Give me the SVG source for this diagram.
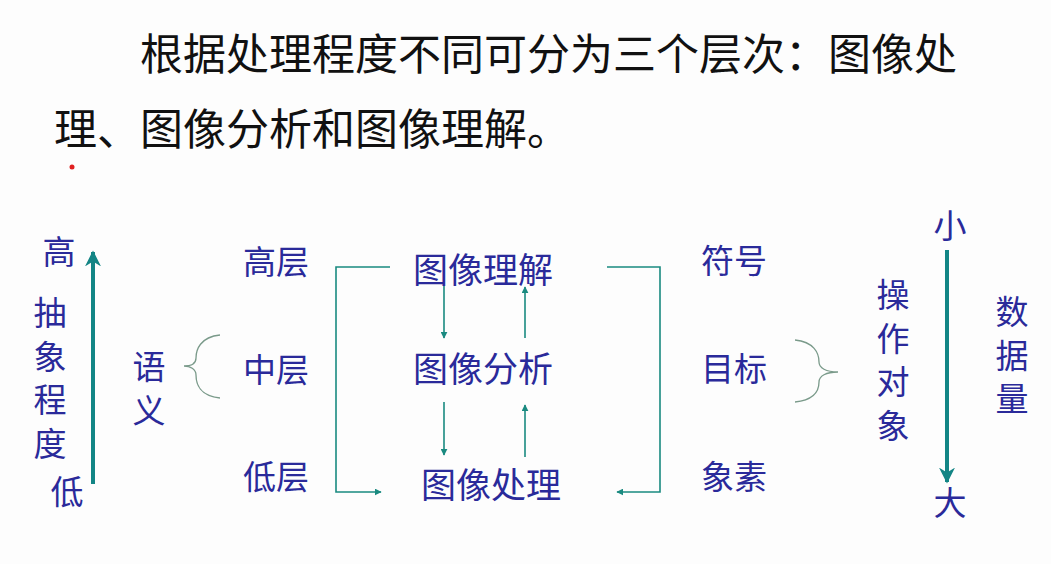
<svg xmlns="http://www.w3.org/2000/svg" width="1051" height="564" viewBox="0 0 1051 564">
  <defs>
    <style>
      .t { font-family: "Noto Sans CJK SC", "Noto Sans", sans-serif; fill: #2a2a9a; text-anchor: middle; dominant-baseline: central; }
      .v { font-family: "Noto Sans CJK SC", "Noto Sans", sans-serif; fill: #2a2a9a; writing-mode: vertical-rl; text-anchor: start; font-size: 33px; letter-spacing: 10.5px; }
      .lbl { font-size: 33px; }
      .big { font-size: 35px; }
      .title { font-family: "Noto Sans CJK SC", "Noto Sans", sans-serif; font-size: 43px; fill: #111; }
      .thin { fill: none; stroke: #1a8a80; stroke-width: 1.6; }
      .thick { fill: none; stroke: #138585; stroke-width: 4; }
      .brace { fill: none; stroke: #7a9a8a; stroke-width: 1.3; }
    </style>
    <marker id="ah" viewBox="0 0 10 10" refX="9" refY="5" markerWidth="7" markerHeight="7" orient="auto" markerUnits="userSpaceOnUse">
      <path d="M0,0 L10,5 L0,10 z" fill="#1a8a80"/>
    </marker>
    <marker id="ahBig" viewBox="0 0 10 10" refX="9" refY="5" markerWidth="16" markerHeight="16" orient="auto" markerUnits="userSpaceOnUse">
      <path d="M0,0 L10,5 L0,10 L3,5 z" fill="#138585"/>
    </marker>
  </defs>
  <rect width="1051" height="564" fill="#fdfdfd"/>

  <g id="title">
    <text class="title" x="140" y="70">根据处理程度不同可分为三个层次：图像处</text>
    <text class="title" x="54" y="145">理、图像分析和图像理解。</text>
    <circle cx="72" cy="167" r="2.5" fill="#e02020"/>
  </g>

  <g id="connectors">
    <line class="thick" x1="93" y1="484" x2="93" y2="252" marker-end="url(#ahBig)"/>
    <line class="thick" x1="947" y1="250" x2="947" y2="482" marker-end="url(#ahBig)"/>
    <line class="thin" x1="444" y1="286" x2="444" y2="338" marker-end="url(#ah)"/>
    <line class="thin" x1="525" y1="338" x2="525" y2="287" marker-end="url(#ah)"/>
    <line class="thin" x1="444" y1="402" x2="444" y2="455" marker-end="url(#ah)"/>
    <line class="thin" x1="525" y1="457" x2="525" y2="405" marker-end="url(#ah)"/>
    <path class="thin" d="M390,267 H336 V492 H381" marker-end="url(#ah)"/>
    <path class="thin" d="M607,267 H660 V492 H617" marker-end="url(#ah)"/>
    <path class="brace" d="M220,335 C200,337 196,350 196,358 C196,364 190,366 184,366 C190,366 196,369 196,375 C196,384 200,396 220,398"/>
    <path class="brace" d="M795,340 C814,342 819,353 819,362 C819,368 826,372 838,372 C826,372 819,376 819,382 C819,392 814,400 795,402"/>
  </g>

  <g id="abstraction">
    <text class="t lbl" x="59" y="250">高</text>
    <text class="v" x="50" y="296">抽象程度</text>
    <text class="t lbl" x="67" y="490">低</text>
  </g>

  <g id="semantic">
    <text class="v" x="149" y="350">语义</text>
  </g>

  <g id="levels">
    <text class="t lbl" x="276" y="260">高层</text>
    <text class="t lbl" x="276" y="368">中层</text>
    <text class="t lbl" x="276" y="475">低层</text>
  </g>

  <g id="node-understanding">
    <text class="t big" x="483" y="267">图像理解</text>
  </g>
  <g id="node-analysis">
    <text class="t big" x="483" y="366">图像分析</text>
  </g>
  <g id="node-processing">
    <text class="t big" x="491" y="482">图像处理</text>
  </g>

  <g id="objects">
    <text class="t lbl" x="734" y="259">符号</text>
    <text class="t lbl" x="734" y="367">目标</text>
    <text class="t lbl" x="734" y="475">象素</text>
  </g>

  <g id="operand">
    <text class="v" x="893" y="278">操作对象</text>
  </g>

  <g id="datasize">
    <text class="t lbl" x="950" y="224">小</text>
    <text class="t lbl" x="950" y="501">大</text>
    <text class="v" x="1012" y="295">数据量</text>
  </g>
</svg>
